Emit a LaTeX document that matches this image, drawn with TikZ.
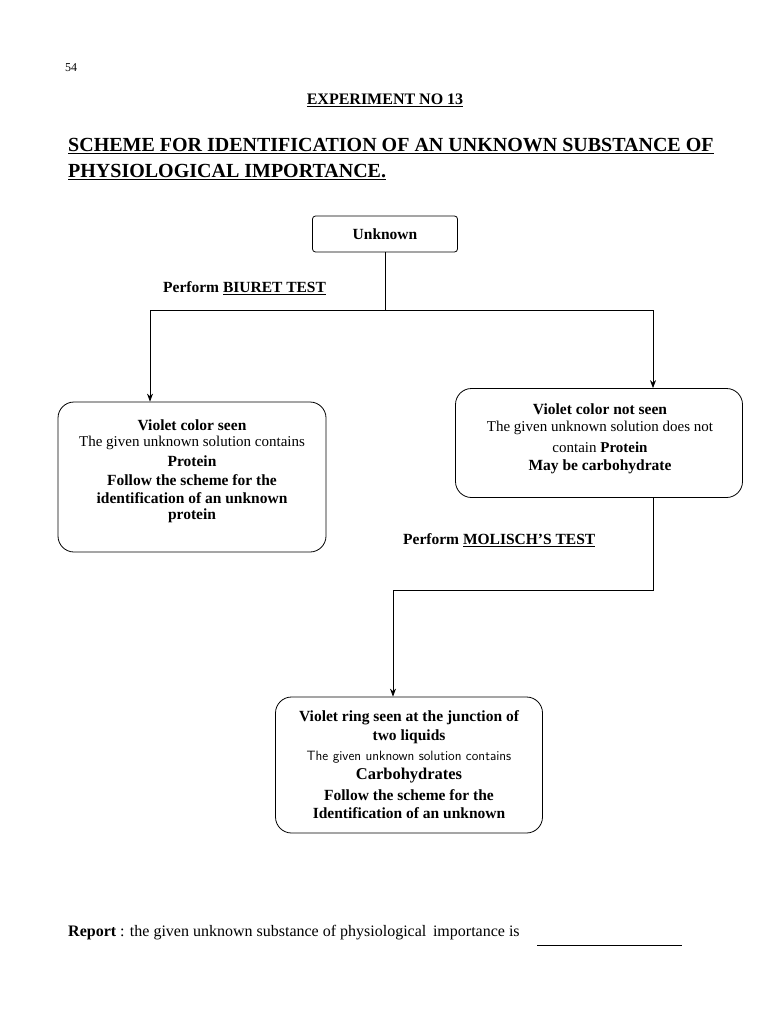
\documentclass[tikz,border=0pt]{standalone}
\usepackage{fontspec}
\setmainfont{Liberation Serif}
\usetikzlibrary{arrows.meta}
\begin{document}
\begin{tikzpicture}[x=1pt,y=-1pt,
  box/.style={draw,rounded corners=16pt,line width=0.8pt},
  ln/.style={line width=0.8pt},
  arr/.style={ln,-{Stealth[length=8pt,width=6pt]}},
  t/.style={font=\fontsize{15.5}{16}\selectfont\bfseries,inner sep=0pt},
  r/.style={font=\fontsize{15}{16}\selectfont,inner sep=0pt}]
\useasboundingbox (0,0) rectangle (768,1024);
\node[font=\fontsize{12}{14}\selectfont] (pg) at (71,68) {54};
\node[font=\fontsize{16}{18}\selectfont\bfseries] (exp) at (385,100) {\underline{EXPERIMENT NO 13}};
\node[font=\fontsize{20}{22}\selectfont\bfseries,anchor=west,inner sep=0pt] (ti1) at (68,146) {\underline{SCHEME FOR IDENTIFICATION OF AN UNKNOWN SUBSTANCE OF}};
\node[font=\fontsize{20}{22}\selectfont\bfseries,anchor=west,inner sep=0pt] (ti2) at (68,172) {\underline{PHYSIOLOGICAL IMPORTANCE.}};

\node[box,rounded corners=3pt,minimum width=145pt,minimum height=36pt,t] (unk) at (385,234) {Unknown};
\coordinate (j1) at (385,310);
\coordinate (jl) at (150,310);
\coordinate (jr) at (653,310);
\node[t,anchor=west] (bt) at (163,288) {Perform \underline{BIURET TEST}};
\draw[ln] (unk.south) -- (j1);
\draw[ln] (jl) -- (jr);

\node[box,minimum width=268pt,minimum height=150pt] (lb) at (192,477) {};
\node[t] (l1) at (192,425) {Violet color seen};
\node[r] (l2) at (192,443) {The given unknown solution contains};
\node[t] (l3) at (192,461) {Protein};
\node[t] (l4) at (192,480) {Follow the scheme for the};
\node[t] (l5) at (192,498) {identification of an unknown};
\node[t] (l6) at (192,516) {protein};

\node[box,minimum width=287pt,minimum height=109pt] (rb) at (599,443) {};
\node[t] (r1) at (600,409) {Violet color not seen};
\node[r] (r2) at (600,428) {The given unknown solution does not};
\node[r,anchor=base] (r3) at (600,452) {contain \textbf{Protein}};
\node[t] (r4) at (600,467) {May be carbohydrate};

\draw[arr] (jl) -- (jl |- lb.north);
\draw[arr] (jr) -- (jr |- rb.north);

\node[t,anchor=west] (mt) at (403,540) {Perform \underline{MOLISCH'S TEST}};
\coordinate (k1) at (653,590);
\coordinate (k2) at (393,590);
\draw[ln] (653,497) -- (k1) -- (k2);

\node[box,minimum width=267pt,minimum height=136pt] (bb) at (409,765) {};
\draw[arr] (k2) -- (k2 |- bb.north);
\node[t] (b1) at (409,718) {Violet ring seen at the junction of};
\node[t] (b2) at (409,737) {two liquids};
\node[font=\fontsize{13.5}{15}\selectfont\sffamily,inner sep=0pt] (b3) at (409,757) {The given unknown solution contains};
\node[t,font=\fontsize{16.5}{18}\selectfont\bfseries] (b4) at (409,776) {Carbohydrates};
\node[t] (b5) at (409,795) {Follow the scheme for the};
\node[t] (b6) at (409,813) {Identification of an unknown};

\node[font=\fontsize{16}{18}\selectfont,inner sep=0pt,anchor=west] (rep) at (68,933) {\textbf{Report} : the given unknown substance of physiological\, importance is};
\coordinate (ra) at (537,945);
\coordinate (rb2) at (682,945);
\draw[line width=0.6pt] (ra) -- (rb2);
\end{tikzpicture}
\end{document}
